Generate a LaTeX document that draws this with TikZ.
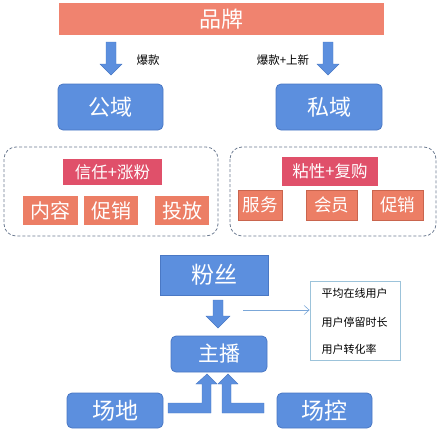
\documentclass[tikz,border=0pt]{standalone}
\usepackage{fontspec}
\setmainfont{Noto Sans CJK SC}
\usetikzlibrary{arrows.meta}
\definecolor{salmon}{HTML}{F0836F}
\definecolor{bluef}{HTML}{5C8FDE}
\definecolor{blued}{HTML}{4A78C4}
\definecolor{crim}{HTML}{E0506A}
\definecolor{orng}{HTML}{EC7E65}
\definecolor{orngd}{HTML}{C9654E}
\definecolor{dgray}{HTML}{6B7A90}
\definecolor{lblue}{HTML}{9CC3DA}
\definecolor{tblue}{HTML}{7BA7D8}
\tikzset{
  bluebox/.style={draw=blued, fill=bluef, rounded corners=5pt, line width=0.8pt, text=white, font=\fontsize{22}{24}\selectfont, inner sep=0pt},
  sqblue/.style={draw=blued, fill=bluef, line width=0.8pt, text=white, font=\fontsize{23}{25}\selectfont, inner sep=0pt},
  crimbox/.style={fill=crim, text=white, font=\fontsize{16.5}{18}\selectfont, inner sep=0pt},
  orbox/.style={fill=orng, text=white, font=\fontsize{20}{22}\selectfont, inner sep=0pt},
  orboxd/.style={fill=orng, draw=orngd, line width=0.6pt, text=white, font=\fontsize{17.5}{19}\selectfont, inner sep=0pt},
  dashbox/.style={draw=dgray, rounded corners=12pt, line width=0.8pt, dash pattern=on 3pt off 2pt},
  blockarrow/.style={fill=bluef, draw=blued, line width=0.4pt},
  lbl/.style={font=\fontsize{11.5}{13}\selectfont, text=black},
  mtxt/.style={font=\fontsize{11}{13}\selectfont, text=black, anchor=west},
}
\begin{document}
\begin{tikzpicture}[x=1pt,y=-1pt]
\useasboundingbox (0,0) rectangle (438,434);
% top bar
\fill[salmon] (59,3) rectangle (384,35);
\node[text=white, font=\fontsize{22}{24}\selectfont, inner sep=0pt] (brand) at (221.5,19) {品牌};
% top arrows
\draw[blockarrow] (106,42) -- (116,42) -- (116,64) -- (122,64) -- (111,75) -- (100,64) -- (106,64) -- cycle;
\draw[blockarrow] (323,42) -- (333,42) -- (333,64) -- (339,64) -- (328,75) -- (317,64) -- (323,64) -- cycle;
\node[lbl] (l1) at (148,60) {爆款};
\node[lbl] (l2) at (283,60) {爆款+上新};
% domain boxes
\node[bluebox, minimum width=105pt, minimum height=46pt] (pub) at (110.5,107) {公域};
\node[bluebox, minimum width=106pt, minimum height=46pt] (pri) at (329,107) {私域};
% dashed groups
\draw[dashbox] (4,147) rectangle (218,236);
\draw[dashbox] (230,147) rectangle (436,236);
\node[crimbox, minimum width=99pt, minimum height=26pt] (trust) at (112.5,172) {信任+涨粉};
\node[orbox, minimum width=55pt, minimum height=29pt] (c1) at (50.5,210.5) {内容};
\node[orbox, minimum width=54pt, minimum height=29pt] (c2) at (111,210.5) {促销};
\node[orbox, minimum width=54pt, minimum height=29pt] (c3) at (182,210.5) {投放};
\node[crimbox, minimum width=96pt, minimum height=29pt] (stick) at (330,171.5) {粘性+复购};
\node[orboxd, minimum width=44pt, minimum height=30pt] (d1) at (260,205) {服务};
\node[orboxd, minimum width=51pt, minimum height=30pt] (d2) at (331.5,205) {会员};
\node[orboxd, minimum width=51pt, minimum height=30pt] (d3) at (397.5,205) {促销};
% fans
\node[sqblue, minimum width=108pt, minimum height=40pt] (fans) at (214,275) {粉丝};
\draw[blockarrow] (213,300) -- (223,300) -- (223,316) -- (230,316) -- (218,328) -- (206,316) -- (213,316) -- cycle;
\node[bluebox, minimum width=96pt, minimum height=36pt, font=\fontsize{21}{23}\selectfont] (anchor) at (219,354) {主播};
% metrics
\node[draw=lblue, line width=0.8pt, fill=white, minimum width=90pt, minimum height=79pt] (met) at (355,320.5) {};
\node[mtxt] (m1) at (318,293) {平均在线用户};
\node[mtxt] (m2) at (318,322) {用户停留时长};
\node[mtxt] (m3) at (318,349) {用户转化率};
\coordinate (as) at (243,310);
\draw[tblue, line width=0.6pt, -{Straight Barb[length=5pt,width=9pt]}] (as) -- (met.west |- as);
% bottom boxes
\node[bluebox, minimum width=96pt, minimum height=35pt, font=\fontsize{23}{25}\selectfont] (site) at (115,410.5) {场地};
\node[bluebox, minimum width=95pt, minimum height=35pt, font=\fontsize{23}{25}\selectfont] (ctrl) at (324.5,410.5) {场控};
% L arrows
\draw[blockarrow] (168,403) -- (202,403) -- (202,384) -- (196,384) -- (207,374) -- (217,384) -- (211,384) -- (211,413) -- (168,413) -- cycle;
\draw[blockarrow] (264,403) -- (231,403) -- (231,384) -- (238,384) -- (228,374) -- (218,384) -- (222,384) -- (222,413) -- (264,413) -- cycle;
\end{tikzpicture}
\end{document}
